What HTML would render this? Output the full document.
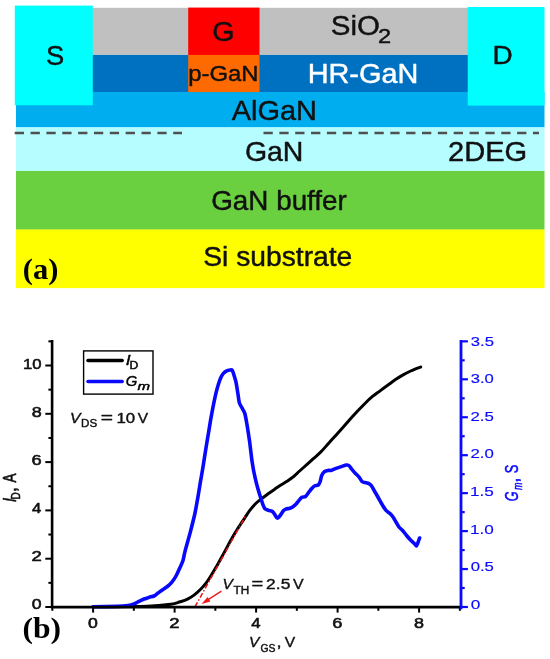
<!DOCTYPE html>
<html lang="en">
<head>
<meta charset="utf-8">
<title>p-GaN gate HEMT structure and transfer characteristics</title>
<style>
html,body{margin:0;padding:0;background:#fff;}
body{width:550px;height:659px;overflow:hidden;}
svg{display:block;}
svg text{font-family:"Liberation Sans", Arial, Helvetica, sans-serif;}
</style>
</head>
<body>
<svg width="550" height="659" viewBox="0 0 550 659">
<rect x="0" y="0" width="550" height="659" fill="#ffffff"/>
<rect x="16.0" y="229.2" width="528.5" height="58.9" fill="#ffff00"/>
<rect x="16.0" y="170.7" width="528.5" height="58.7" fill="#6bd040"/>
<rect x="16.0" y="126.9" width="528.5" height="44.0" fill="#b5fdff"/>
<rect x="16.0" y="91.8" width="528.5" height="35.3" fill="#00aeef"/>
<rect x="92" y="54.6" width="376.5" height="37.4" fill="#0070c0"/>
<rect x="92" y="7.8" width="376.5" height="47.0" fill="#c0c0c0"/>
<rect x="188.2" y="7.6" width="71.3" height="47.5" fill="#ff0000"/>
<rect x="188.2" y="54.9" width="71.3" height="37.2" fill="#ff6a00"/>
<rect x="14.8" y="5.6" width="78.0" height="99.7" fill="#00ffff"/>
<rect x="467.7" y="7" width="76.8" height="98.6" fill="#00ffff"/>
<path d="M14.7 133H182" stroke="#505050" stroke-width="2.6" stroke-dasharray="9.3 6.55" fill="none"/>
<path d="M263.5 133H539" stroke="#505050" stroke-width="2.6" stroke-dasharray="9.3 6.55" fill="none"/>
<text x="45.9" y="64.7" font-size="27.6" fill="#111" textLength="18.21" lengthAdjust="spacingAndGlyphs" stroke="#111" stroke-width="0.45" stroke-linejoin="round">S</text>
<text x="212.39" y="41.1" font-size="27.6" fill="#111" textLength="22.3" lengthAdjust="spacingAndGlyphs" stroke="#111" stroke-width="0.45" stroke-linejoin="round">G</text>
<text x="188.3" y="81.2" font-size="22.3" fill="#111" textLength="70.21" lengthAdjust="spacingAndGlyphs" stroke="#111" stroke-width="0.45" stroke-linejoin="round">p-GaN</text>
<text x="330.8" y="35.2" font-size="27.5" fill="#111" textLength="49.09" lengthAdjust="spacingAndGlyphs" stroke="#111" stroke-width="0.45" stroke-linejoin="round">SiO</text>
<text x="378.05" y="42.7" font-size="20" fill="#111" textLength="13.11" lengthAdjust="spacingAndGlyphs" stroke="#111" stroke-width="0.45" stroke-linejoin="round">2</text>
<text x="307.66" y="83.2" font-size="27.5" fill="#fff" textLength="110.67" lengthAdjust="spacingAndGlyphs" stroke="#fff" stroke-width="0.45" stroke-linejoin="round">HR-GaN</text>
<text x="492.44" y="64.3" font-size="26.5" fill="#111" textLength="20.16" lengthAdjust="spacingAndGlyphs" stroke="#111" stroke-width="0.45" stroke-linejoin="round">D</text>
<text x="231.77" y="119.8" font-size="27.5" fill="#111" textLength="85.16" lengthAdjust="spacingAndGlyphs" stroke="#111" stroke-width="0.45" stroke-linejoin="round">AlGaN</text>
<text x="244.9" y="160.5" font-size="27.5" fill="#111" textLength="58.48" lengthAdjust="spacingAndGlyphs" stroke="#111" stroke-width="0.45" stroke-linejoin="round">GaN</text>
<text x="448.07" y="160.8" font-size="27.5" fill="#111" textLength="79.16" lengthAdjust="spacingAndGlyphs" stroke="#111" stroke-width="0.45" stroke-linejoin="round">2DEG</text>
<text x="211.23" y="210.4" font-size="27.5" fill="#111" textLength="135.59" lengthAdjust="spacingAndGlyphs" stroke="#111" stroke-width="0.45" stroke-linejoin="round">GaN buffer</text>
<text x="203.25" y="266.0" font-size="27.5" fill="#111" textLength="149.07" lengthAdjust="spacingAndGlyphs" stroke="#111" stroke-width="0.45" stroke-linejoin="round">Si substrate</text>
<text x="22.8" y="278.9" font-size="30" fill="#000" textLength="35.6" lengthAdjust="spacingAndGlyphs" style='font-family:"Liberation Serif", "Times New Roman", serif' font-weight="bold">(a)</text>
<path d="M93 606.8 C100.0 606.8 125.3 606.6 135 606.5 C144.7 606.4 145.0 606.4 151 606 C157.0 605.6 166.2 605.0 171 604.3 C175.8 603.6 177.3 602.6 180 601.8 C182.7 601.0 184.7 600.5 187 599.4 C189.3 598.3 191.7 596.8 194 595.1 C196.3 593.4 198.9 591.0 200.9 589 C202.9 587.0 204.4 585.2 206.2 582.9 C207.9 580.6 209.7 577.8 211.4 575 C213.1 572.2 214.8 569.3 216.6 566.3 C218.3 563.2 220.2 559.9 221.9 556.7 C223.7 553.5 225.4 550.3 227.1 547.1 C228.8 543.9 230.6 540.5 232.3 537.5 C234.1 534.5 236.2 531.0 237.6 528.8 C239.0 526.6 239.4 526.1 240.6 524.2 C241.8 522.4 243.4 520.0 244.9 517.7 C246.4 515.4 248.0 512.7 249.8 510.4 C251.6 508.1 253.6 505.7 255.5 503.8 C257.4 501.9 259.2 500.5 261.3 498.9 C263.4 497.3 265.6 495.6 267.8 494 C270.0 492.4 272.2 490.9 274.4 489.4 C276.6 487.9 278.7 486.4 280.9 485 C283.1 483.6 285.3 482.3 287.5 480.9 C289.7 479.4 292.3 477.6 294 476.3 C295.7 475.0 295.7 474.5 297.6 472.8 C299.5 471.1 302.7 468.3 305.2 466 C307.7 463.7 310.3 461.5 312.8 459.2 C315.3 456.9 317.9 454.9 320.4 452.4 C322.9 449.9 325.5 446.8 328 444 C330.5 441.2 333.0 438.5 335.5 435.7 C338.0 432.9 340.6 430.1 343.1 427.3 C345.6 424.5 348.1 421.5 350.5 418.8 C352.9 416.1 355.2 413.6 357.6 411.0 C360.1 408.4 362.7 405.7 365.2 403.2 C367.7 400.7 370.3 398.3 372.8 396.2 C375.3 394.1 377.9 392.5 380.4 390.6 C382.9 388.7 385.5 386.8 388 385.0 C390.5 383.2 393.0 381.3 395.5 379.6 C398.0 377.9 400.6 376.3 403.1 374.9 C405.6 373.5 408.4 372.1 410.7 371.0 C413.0 369.9 415.1 369.1 416.8 368.4 C418.5 367.7 420.1 367.2 420.7 367.0" fill="none" stroke="#000" stroke-width="3.0" stroke-linejoin="round" stroke-linecap="round"/>
<path d="M93 606.8 C95.8 606.8 112.9 606.5 117 606.4 C121.1 606.3 126.0 605.9 128 605.6 C130.0 605.3 132.7 604.5 134 604 C135.3 603.5 137.8 602.0 139 601.4 C140.2 600.8 142.8 599.5 144 599 C145.2 598.5 147.8 597.8 149 597.4 C150.2 597.0 152.9 596.5 154 596 C155.1 595.5 156.9 593.8 158 593 C159.1 592.2 161.8 590.2 163 589.4 C164.2 588.6 166.9 586.9 168 586 C169.1 585.1 171.1 583.2 172 582 C172.9 580.8 175.1 577.7 176 576 C176.9 574.3 179.2 569.3 180 567.5 C180.8 565.7 182.4 562.5 183 560.5 C183.6 558.5 184.3 554.0 185.2 550.6 C186.1 547.2 189.4 535.7 190.5 531.4 C191.6 527.1 194.0 517.7 194.8 514 C195.6 510.3 196.7 503.7 197.4 500 C198.1 496.3 199.7 486.2 200.4 482 C201.1 477.8 202.8 468.3 203.4 464.4 C204.0 460.5 205.3 452.1 205.9 448.5 C206.5 444.9 207.8 437.0 208.4 433.5 C209.0 430.0 210.3 421.7 210.9 418.4 C211.5 415.1 212.8 408.0 213.4 405.1 C214.0 402.2 215.3 395.8 215.9 393.4 C216.5 391.0 217.8 386.1 218.4 384.2 C219.0 382.3 220.3 378.8 220.9 377.5 C221.5 376.2 222.7 374.2 223.4 373.4 C224.1 372.6 225.9 371.3 226.7 370.9 C227.5 370.5 229.5 370.1 230.1 370 C230.7 369.9 231.7 369.5 232.1 370 C232.5 370.5 233.3 372.8 233.7 374.2 C234.1 375.6 235.4 379.7 235.9 381.7 C236.4 383.7 237.2 389.3 237.6 391.7 C238.0 394.1 238.8 400.7 239.3 402.6 C239.8 404.5 241.2 406.3 241.8 407.6 C242.4 408.9 244.2 411.5 244.8 413.4 C245.4 415.3 246.4 421.2 246.8 423.5 C247.2 425.8 248.1 431.4 248.4 433.5 C248.7 435.6 249.3 439.6 249.6 441.5 C249.9 443.4 250.3 447.7 250.6 449.8 C250.9 451.9 251.5 457.3 251.8 459.6 C252.1 461.9 253.0 467.2 253.4 469.5 C253.8 471.8 255.0 477.0 255.5 479.3 C256.0 481.6 257.4 487.0 258 489.1 C258.6 491.2 259.9 495.5 260.5 497.3 C261.1 499.1 262.4 503.3 262.9 504.6 C263.4 505.9 264.2 508.0 264.9 508.7 C265.6 509.4 267.7 510.0 268.6 510.4 C269.5 510.8 271.9 511.1 272.7 511.7 C273.5 512.3 274.7 514.5 275.2 515.3 C275.7 516.1 276.7 518.2 277.3 518.2 C277.9 518.2 279.4 516.5 280.1 515.6 C280.8 514.7 282.7 511.5 283.4 510.7 C284.1 509.9 285.1 509.4 285.8 509.1 C286.5 508.8 288.3 508.6 289.1 508.4 C289.9 508.2 291.6 507.5 292.4 507.1 C293.2 506.7 294.8 505.4 295.6 504.6 C296.4 503.8 298.2 501.4 298.9 500.5 C299.6 499.6 301.1 497.8 301.9 497.3 C302.7 496.8 304.7 497.1 305.5 496.5 C306.3 495.9 307.9 493.4 308.7 492.4 C309.5 491.4 311.3 489.1 312 488.3 C312.7 487.5 314.2 486.2 314.9 485.8 C315.6 485.4 317.6 485.5 318.2 485 C318.8 484.5 319.8 482.6 320.2 481.5 C320.6 480.4 321.2 476.7 321.7 475.6 C322.2 474.5 323.7 472.3 324.4 471.7 C325.1 471.1 327.2 470.6 328 470.4 C328.8 470.2 330.1 470.6 331 470.4 C331.9 470.2 334.7 468.9 336 468.4 C337.3 467.9 340.8 466.8 342 466.4 C343.2 466.0 345.2 465.1 346 465 C346.8 464.9 348.3 465.1 349 465.6 C349.7 466.1 350.9 468.1 351.6 469 C352.3 469.9 354.1 472.1 355 473 C355.9 473.9 358.2 476.0 359 477 C359.8 478.0 361.3 480.9 362 481.6 C362.7 482.3 364.2 482.4 365 482.6 C365.8 482.8 368.2 483.2 369 483.6 C369.8 484.0 370.9 485.0 371.6 486 C372.3 487.0 374.1 490.5 375 492 C375.9 493.5 378.1 497.4 379 499 C379.9 500.6 382.2 504.7 383 506 C383.8 507.3 385.2 509.5 386 510.4 C386.8 511.3 389.2 512.8 390 513.6 C390.8 514.4 392.3 516.0 393 517 C393.7 518.0 395.3 520.8 396 522 C396.7 523.2 398.2 526.0 399 527 C399.8 528.0 402.1 530.0 403 531 C403.9 532.0 406.1 534.9 407 536 C407.9 537.1 410.1 539.5 411 540.4 C411.9 541.3 413.8 542.9 414.4 543.6 C415.0 544.3 416.0 546.1 416.4 546 C416.8 545.9 417.6 543.3 418 542.4 C418.4 541.5 419.4 538.5 419.6 538" fill="none" stroke="#0808ff" stroke-width="3.6" stroke-linejoin="round" stroke-linecap="round"/>
<path d="M195.0 606.7L246.2 514.8" stroke="#f01010" stroke-width="1.5" stroke-dasharray="5 2 1.5 2" fill="none"/>
<path d="M221.4 591.2L205 601.7" stroke="#f01818" stroke-width="1.4" fill="none"/>
<path d="M201.5 603.9L207.6 597.0L210.4 601.6Z" fill="#f01818"/>
<path d="M52.1 340V607.1H461" stroke="#000" stroke-width="2.6" fill="none"/>
<path d="M45.3 607.0H52" stroke="#000" stroke-width="2"/>
<path d="M48.4 582.85H52" stroke="#000" stroke-width="2"/>
<path d="M45.3 558.7H52" stroke="#000" stroke-width="2"/>
<path d="M48.4 534.55H52" stroke="#000" stroke-width="2"/>
<path d="M45.3 510.4H52" stroke="#000" stroke-width="2"/>
<path d="M48.4 486.25H52" stroke="#000" stroke-width="2"/>
<path d="M45.3 462.1H52" stroke="#000" stroke-width="2"/>
<path d="M48.4 437.95H52" stroke="#000" stroke-width="2"/>
<path d="M45.3 413.8H52" stroke="#000" stroke-width="2"/>
<path d="M48.4 389.65H52" stroke="#000" stroke-width="2"/>
<path d="M45.3 365.5H52" stroke="#000" stroke-width="2"/>
<path d="M48.4 341.35H52" stroke="#000" stroke-width="2"/>
<path d="M52.35 607V610.8" stroke="#000" stroke-width="2"/>
<path d="M93.1 607V612.6" stroke="#000" stroke-width="2"/>
<path d="M133.85 607V610.8" stroke="#000" stroke-width="2"/>
<path d="M174.6 607V612.6" stroke="#000" stroke-width="2"/>
<path d="M215.35 607V610.8" stroke="#000" stroke-width="2"/>
<path d="M256.1 607V612.6" stroke="#000" stroke-width="2"/>
<path d="M296.85 607V610.8" stroke="#000" stroke-width="2"/>
<path d="M337.6 607V612.6" stroke="#000" stroke-width="2"/>
<path d="M378.35 607V610.8" stroke="#000" stroke-width="2"/>
<path d="M419.1 607V612.6" stroke="#000" stroke-width="2"/>
<path d="M459.85 607V610.8" stroke="#000" stroke-width="2"/>
<path d="M461 340V609.3" stroke="#0a0aff" stroke-width="2.8" fill="none"/>
<path d="M461 607.0H467.9" stroke="#0a0aff" stroke-width="2.2"/>
<path d="M461 588.02H464.7" stroke="#0a0aff" stroke-width="2.2"/>
<path d="M461 569.05H467.9" stroke="#0a0aff" stroke-width="2.2"/>
<path d="M461 550.08H464.7" stroke="#0a0aff" stroke-width="2.2"/>
<path d="M461 531.1H467.9" stroke="#0a0aff" stroke-width="2.2"/>
<path d="M461 512.12H464.7" stroke="#0a0aff" stroke-width="2.2"/>
<path d="M461 493.15H467.9" stroke="#0a0aff" stroke-width="2.2"/>
<path d="M461 474.17H464.7" stroke="#0a0aff" stroke-width="2.2"/>
<path d="M461 455.2H467.9" stroke="#0a0aff" stroke-width="2.2"/>
<path d="M461 436.23H464.7" stroke="#0a0aff" stroke-width="2.2"/>
<path d="M461 417.25H467.9" stroke="#0a0aff" stroke-width="2.2"/>
<path d="M461 398.27H464.7" stroke="#0a0aff" stroke-width="2.2"/>
<path d="M461 379.3H467.9" stroke="#0a0aff" stroke-width="2.2"/>
<path d="M461 360.32H464.7" stroke="#0a0aff" stroke-width="2.2"/>
<path d="M461 341.35H467.9" stroke="#0a0aff" stroke-width="2.2"/>
<text x="31.79" y="609.4" font-size="14" fill="#111" textLength="9.81" lengthAdjust="spacingAndGlyphs" stroke="#111" stroke-width="0.55" stroke-linejoin="round">0</text>
<text x="31.55" y="561.4" font-size="14" fill="#111" textLength="10.31" lengthAdjust="spacingAndGlyphs" stroke="#111" stroke-width="0.55" stroke-linejoin="round">2</text>
<text x="32.11" y="513.4" font-size="14" fill="#111" textLength="9.31" lengthAdjust="spacingAndGlyphs" stroke="#111" stroke-width="0.55" stroke-linejoin="round">4</text>
<text x="31.56" y="465.4" font-size="14" fill="#111" textLength="10.15" lengthAdjust="spacingAndGlyphs" stroke="#111" stroke-width="0.55" stroke-linejoin="round">6</text>
<text x="31.7" y="417.4" font-size="14" fill="#111" textLength="10.0" lengthAdjust="spacingAndGlyphs" stroke="#111" stroke-width="0.55" stroke-linejoin="round">8</text>
<text x="23.01" y="369.4" font-size="14" fill="#111" textLength="18.56" lengthAdjust="spacingAndGlyphs" stroke="#111" stroke-width="0.55" stroke-linejoin="round">10</text>
<text x="87.99" y="627.9" font-size="14" fill="#111" textLength="9.81" lengthAdjust="spacingAndGlyphs" stroke="#111" stroke-width="0.55" stroke-linejoin="round">0</text>
<text x="169.25" y="627.9" font-size="14" fill="#111" textLength="10.31" lengthAdjust="spacingAndGlyphs" stroke="#111" stroke-width="0.55" stroke-linejoin="round">2</text>
<text x="251.31" y="627.9" font-size="14" fill="#111" textLength="9.31" lengthAdjust="spacingAndGlyphs" stroke="#111" stroke-width="0.55" stroke-linejoin="round">4</text>
<text x="332.26" y="627.9" font-size="14" fill="#111" textLength="10.15" lengthAdjust="spacingAndGlyphs" stroke="#111" stroke-width="0.55" stroke-linejoin="round">6</text>
<text x="413.9" y="627.9" font-size="14" fill="#111" textLength="10.0" lengthAdjust="spacingAndGlyphs" stroke="#111" stroke-width="0.55" stroke-linejoin="round">8</text>
<text x="470.7" y="608.91" font-size="13.6" fill="#0a0aff" textLength="9.58" lengthAdjust="spacingAndGlyphs" stroke="#0a0aff" stroke-width="0.15" stroke-linejoin="round">0</text>
<text x="470.72" y="571.28" font-size="13.6" fill="#0a0aff" textLength="23.19" lengthAdjust="spacingAndGlyphs" stroke="#0a0aff" stroke-width="0.15" stroke-linejoin="round">0.5</text>
<text x="470.07" y="533.65" font-size="13.6" fill="#0a0aff" textLength="23.8" lengthAdjust="spacingAndGlyphs" stroke="#0a0aff" stroke-width="0.15" stroke-linejoin="round">1.0</text>
<text x="470.07" y="496.02" font-size="13.6" fill="#0a0aff" textLength="23.86" lengthAdjust="spacingAndGlyphs" stroke="#0a0aff" stroke-width="0.15" stroke-linejoin="round">1.5</text>
<text x="470.54" y="458.39" font-size="13.6" fill="#0a0aff" textLength="23.33" lengthAdjust="spacingAndGlyphs" stroke="#0a0aff" stroke-width="0.15" stroke-linejoin="round">2.0</text>
<text x="470.53" y="420.76" font-size="13.6" fill="#0a0aff" textLength="23.38" lengthAdjust="spacingAndGlyphs" stroke="#0a0aff" stroke-width="0.15" stroke-linejoin="round">2.5</text>
<text x="470.74" y="383.13" font-size="13.6" fill="#0a0aff" textLength="23.12" lengthAdjust="spacingAndGlyphs" stroke="#0a0aff" stroke-width="0.15" stroke-linejoin="round">3.0</text>
<text x="470.74" y="345.5" font-size="13.6" fill="#0a0aff" textLength="23.17" lengthAdjust="spacingAndGlyphs" stroke="#0a0aff" stroke-width="0.15" stroke-linejoin="round">3.5</text>
<rect x="83.6" y="350.9" width="69.4" height="43.2" fill="#fff" stroke="#000" stroke-width="1.4"/>
<path d="M88 360.4H122.2" stroke="#000" stroke-width="3.5" stroke-linecap="round"/>
<path d="M88 381.4H122.2" stroke="#0a0aff" stroke-width="3.5" stroke-linecap="round"/>
<text x="125.72" y="365.2" font-size="14.5" fill="#000" textLength="4.87" lengthAdjust="spacingAndGlyphs" font-style="italic" stroke="#000" stroke-width="0.4" stroke-linejoin="round">I</text>
<text x="129.6" y="369.4" font-size="10" fill="#000" textLength="8.77" lengthAdjust="spacingAndGlyphs" stroke="#000" stroke-width="0.4" stroke-linejoin="round">D</text>
<text x="125.87" y="386.2" font-size="14.5" fill="#000" textLength="11.57" lengthAdjust="spacingAndGlyphs" font-style="italic" stroke="#000" stroke-width="0.4" stroke-linejoin="round">G</text>
<text x="137.56" y="389.5" font-size="10.5" fill="#000" textLength="12.53" lengthAdjust="spacingAndGlyphs" font-style="italic" stroke="#000" stroke-width="0.4" stroke-linejoin="round">m</text>
<text x="70.04" y="422.8" font-size="14.5" fill="#111" textLength="10.53" lengthAdjust="spacingAndGlyphs" font-style="italic" stroke="#111" stroke-width="0.4" stroke-linejoin="round">V</text>
<text x="81.05" y="426.6" font-size="10" fill="#111" textLength="16.07" lengthAdjust="spacingAndGlyphs" stroke="#111" stroke-width="0.4" stroke-linejoin="round">DS</text>
<text x="100.69" y="422.8" font-size="14.5" fill="#111" textLength="12.23" lengthAdjust="spacingAndGlyphs" stroke="#111" stroke-width="0.4" stroke-linejoin="round">=</text>
<text x="116.52" y="422.8" font-size="14.5" fill="#111" textLength="18.72" lengthAdjust="spacingAndGlyphs" stroke="#111" stroke-width="0.4" stroke-linejoin="round">10</text>
<text x="137.84" y="422.8" font-size="14.5" fill="#111" textLength="10.32" lengthAdjust="spacingAndGlyphs" stroke="#111" stroke-width="0.4" stroke-linejoin="round">V</text>
<text x="222.47" y="589.2" font-size="14.5" fill="#111" textLength="10.32" lengthAdjust="spacingAndGlyphs" font-style="italic" stroke="#111" stroke-width="0.4" stroke-linejoin="round">V</text>
<text x="233.54" y="593.6" font-size="10" fill="#111" textLength="15.61" lengthAdjust="spacingAndGlyphs" stroke="#111" stroke-width="0.4" stroke-linejoin="round">TH</text>
<text x="251.63" y="589.2" font-size="14.5" fill="#111" textLength="11.75" lengthAdjust="spacingAndGlyphs" stroke="#111" stroke-width="0.4" stroke-linejoin="round">=</text>
<text x="266.13" y="589.2" font-size="14.5" fill="#111" textLength="24.19" lengthAdjust="spacingAndGlyphs" stroke="#111" stroke-width="0.4" stroke-linejoin="round">2.5</text>
<text x="293.14" y="589.2" font-size="14.5" fill="#111" textLength="10.63" lengthAdjust="spacingAndGlyphs" stroke="#111" stroke-width="0.4" stroke-linejoin="round">V</text>
<text x="249.07" y="647.4" font-size="14.5" fill="#111" textLength="10.32" lengthAdjust="spacingAndGlyphs" font-style="italic" stroke="#111" stroke-width="0.4" stroke-linejoin="round">V</text>
<text x="260.48" y="652.2" font-size="10" fill="#111" textLength="14.98" lengthAdjust="spacingAndGlyphs" stroke="#111" stroke-width="0.4" stroke-linejoin="round">GS</text>
<text x="276.58" y="647.4" font-size="14.5" fill="#111" textLength="5.05" lengthAdjust="spacingAndGlyphs" stroke="#111" stroke-width="0.4" stroke-linejoin="round">,</text>
<text x="284.84" y="647.4" font-size="14.5" fill="#111" textLength="10.43" lengthAdjust="spacingAndGlyphs" stroke="#111" stroke-width="0.4" stroke-linejoin="round">V</text>
<g transform="translate(16.3,502) rotate(-90)">
<text x="-0.15" y="0" font-size="18" fill="#111" textLength="4.45" lengthAdjust="spacingAndGlyphs" font-style="italic" stroke="#111" stroke-width="0.55" stroke-linejoin="round">I</text>
<text x="2.45" y="3.5" font-size="12.7" fill="#111" textLength="7.25" lengthAdjust="spacingAndGlyphs" stroke="#111" stroke-width="0.55" stroke-linejoin="round">D</text>
<text x="10.1" y="0" font-size="18" fill="#111" textLength="4.91" lengthAdjust="spacingAndGlyphs" stroke="#111" stroke-width="0.55" stroke-linejoin="round">,</text>
<text x="19.45" y="0" font-size="18" fill="#111" textLength="9.0" lengthAdjust="spacingAndGlyphs" stroke="#111" stroke-width="0.55" stroke-linejoin="round">A</text>
</g>
<g transform="translate(518.2,501.5) rotate(-90)">
<text x="0.26" y="0" font-size="18" fill="#0a0aff" textLength="9.81" lengthAdjust="spacingAndGlyphs" font-style="italic" stroke="#0a0aff" stroke-width="0.55" stroke-linejoin="round">G</text>
<text x="11.53" y="3.9" font-size="13.5" fill="#0a0aff" textLength="7.51" lengthAdjust="spacingAndGlyphs" font-style="italic" stroke="#0a0aff" stroke-width="0.55" stroke-linejoin="round">m</text>
<text x="19.1" y="0" font-size="18" fill="#0a0aff" textLength="4.91" lengthAdjust="spacingAndGlyphs" stroke="#0a0aff" stroke-width="0.55" stroke-linejoin="round">,</text>
<text x="28.19" y="0" font-size="18" fill="#0a0aff" textLength="8.61" lengthAdjust="spacingAndGlyphs" stroke="#0a0aff" stroke-width="0.55" stroke-linejoin="round">S</text>
</g>
<text x="22.4" y="637.6" font-size="30" fill="#000" textLength="38.6" lengthAdjust="spacingAndGlyphs" style='font-family:"Liberation Serif", "Times New Roman", serif' font-weight="bold">(b)</text>
</svg>
</body>
</html>
